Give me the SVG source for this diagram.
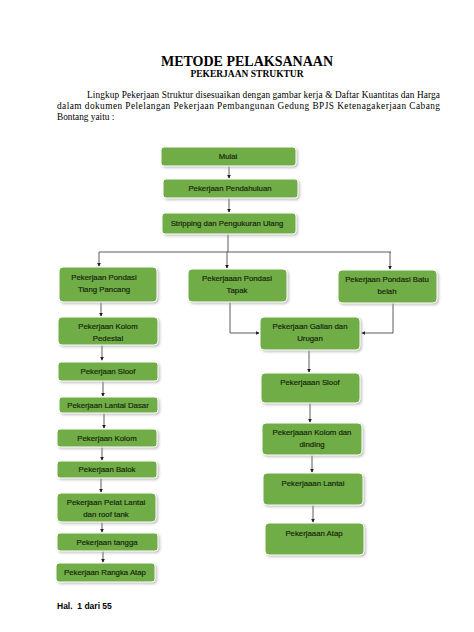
<svg xmlns="http://www.w3.org/2000/svg" width="474" height="632" viewBox="0 0 474 632">
<defs>
<marker id="ah" viewBox="0 0 6 6" refX="5" refY="3" markerWidth="5" markerHeight="5" orient="auto">
<path d="M0,0 L6,3 L0,6 z" fill="#222"/>
</marker>
<filter id="sh" x="-10%" y="-20%" width="130%" height="160%">
<feDropShadow dx="1.5" dy="1.5" stdDeviation="0.8" flood-color="#999" flood-opacity="0.6"/>
</filter>
</defs>
<style>
.box{fill:#70ad47;stroke:#ffffff;stroke-width:1;filter:url(#sh)}
.t{font-family:"Liberation Sans",Arial,sans-serif;font-size:7.8px;fill:#15260a;stroke:#15260a;stroke-width:0.18;text-anchor:middle}
.c{fill:none;stroke:#333;stroke-width:0.8}
.ca{fill:none;stroke:#333;stroke-width:0.8;marker-end:url(#ah)}
.title{font-family:"Liberation Serif","Times New Roman",serif;font-weight:bold;text-anchor:middle;fill:#000}
.p{font-family:"Liberation Serif","Times New Roman",serif;font-size:9.3px;fill:#000}
</style>
<rect width="474" height="632" fill="#ffffff"/>
<text class="title" x="247" y="66" font-size="14">METODE PELAKSANAAN</text>
<text class="title" x="247" y="77" font-size="9.5">PEKERJAAN STRUKTUR</text>
<text class="p" x="87" y="98" textLength="353" lengthAdjust="spacing">Lingkup Pekerjaan Struktur disesuaikan dengan gambar kerja &amp; Daftar Kuantitas dan Harga</text>
<text class="p" x="57" y="109" textLength="383" lengthAdjust="spacing">dalam dokumen Pelelangan Pekerjaan Pembangunan Gedung BPJS Ketenagakerjaan Cabang</text>
<text class="p" x="57" y="120">Bontang yaitu :</text>

<g id="connectors">
<path class="ca" d="M229,166 V178"/>
<path class="ca" d="M229,198 V212"/>
<path class="c" d="M228,234 V252 M99,252 H391"/>
<path class="ca" d="M99,252 V266"/>
<path class="ca" d="M227,252 V268"/>
<path class="ca" d="M390,252 V269"/>
<path class="ca" d="M101,302 V316"/>
<path class="ca" d="M102,345 V360"/>
<path class="ca" d="M103,381 V396"/>
<path class="ca" d="M104,413 V428"/>
<path class="ca" d="M102,447 V460"/>
<path class="ca" d="M101,478 V492"/>
<path class="ca" d="M102,522 V532"/>
<path class="ca" d="M103,551 V562"/>
<path class="ca" d="M230,302 V333 H259"/>
<path class="ca" d="M393,303 V333 H362"/>
<path class="ca" d="M309,350 V372"/>
<path class="ca" d="M310,403 V422"/>
<path class="ca" d="M312,455 V472"/>
<path class="ca" d="M313,505 V522"/>
</g>

<g id="n-mulai"><rect class="box" x="161" y="147" width="135" height="19" rx="3"/><text class="t" x="228" y="159">Mulai</text></g>
<g id="n-pendahuluan"><rect class="box" x="163" y="179" width="135" height="19" rx="3"/><text class="t" x="230" y="191">Pekerjaan Pendahuluan</text></g>
<g id="n-stripping"><rect class="box" x="162" y="213" width="134" height="21" rx="3"/><text class="t" x="227" y="226">Stripping dan Pengukuran Ulang</text></g>

<g id="n-tiang"><rect class="box" x="59" y="267" width="98" height="35" rx="4"/><text class="t" x="104" y="280">Pekerjaan Pondasi</text><text class="t" x="104" y="292">Tiang Pancang</text></g>
<g id="n-tapak"><rect class="box" x="188" y="269" width="99" height="33" rx="4"/><text class="t" x="237" y="281">Pekerjaaan Pondasi</text><text class="t" x="237" y="293">Tapak</text></g>
<g id="n-batu"><rect class="box" x="338" y="270" width="99" height="33" rx="4"/><text class="t" x="387" y="282">Pekerjaan Pondasi Batu</text><text class="t" x="387" y="294">belah</text></g>

<g id="n-pedestal"><rect class="box" x="58" y="317" width="100" height="28" rx="4"/><text class="t" x="108" y="329">Pekerjaan Kolom</text><text class="t" x="108" y="341">Pedestal</text></g>
<g id="n-sloof1"><rect class="box" x="58" y="362" width="100" height="19" rx="3"/><text class="t" x="108" y="374">Pekerjaan Sloof</text></g>
<g id="n-lantaidasar"><rect class="box" x="59" y="397" width="99" height="16" rx="3"/><text class="t" x="108" y="408">Pekerjaan Lantai Dasar</text></g>
<g id="n-kolom1"><rect class="box" x="57" y="429" width="100" height="18" rx="3"/><text class="t" x="107" y="441">Pekerjaan Kolom</text></g>
<g id="n-balok"><rect class="box" x="57" y="461" width="100" height="17" rx="3"/><text class="t" x="107" y="472">Pekerjaan Balok</text></g>
<g id="n-pelat"><rect class="box" x="57" y="493" width="99" height="29" rx="4"/><text class="t" x="106" y="505">Pekerjaan Pelat Lantai</text><text class="t" x="106" y="517">dan roof tank</text></g>
<g id="n-tangga"><rect class="box" x="57" y="533" width="101" height="18" rx="3"/><text class="t" x="107" y="545">Pekerjaan tangga</text></g>
<g id="n-rangka"><rect class="box" x="56" y="563" width="99" height="19" rx="3"/><text class="t" x="105" y="575">Pekerjaan Rangka Atap</text></g>

<g id="n-galian"><rect class="box" x="260" y="317" width="100" height="33" rx="4"/><text class="t" x="310" y="329">Pekerjaan Galian dan</text><text class="t" x="310" y="341">Urugan</text></g>
<g id="n-sloof2"><rect class="box" x="261" y="373" width="99" height="30" rx="4"/><text class="t" x="310" y="385">Pekerjaaan Sloof</text></g>
<g id="n-kolomdinding"><rect class="box" x="262" y="423" width="100" height="32" rx="4"/><text class="t" x="312" y="435">Pekerjaaan Kolom dan</text><text class="t" x="312" y="447">dinding</text></g>
<g id="n-lantai"><rect class="box" x="263" y="473" width="100" height="32" rx="4"/><text class="t" x="313" y="486">Pekerjaaan Lantai</text></g>
<g id="n-atap"><rect class="box" x="265" y="523" width="99" height="32" rx="4"/><text class="t" x="314" y="536">Pekerjaaan Atap</text></g>

<text x="57" y="609" xml:space="preserve" font-family="Liberation Sans,Arial,sans-serif" font-size="8.5" font-weight="bold" fill="#000">Hal.  1 dari 55</text>
</svg>
